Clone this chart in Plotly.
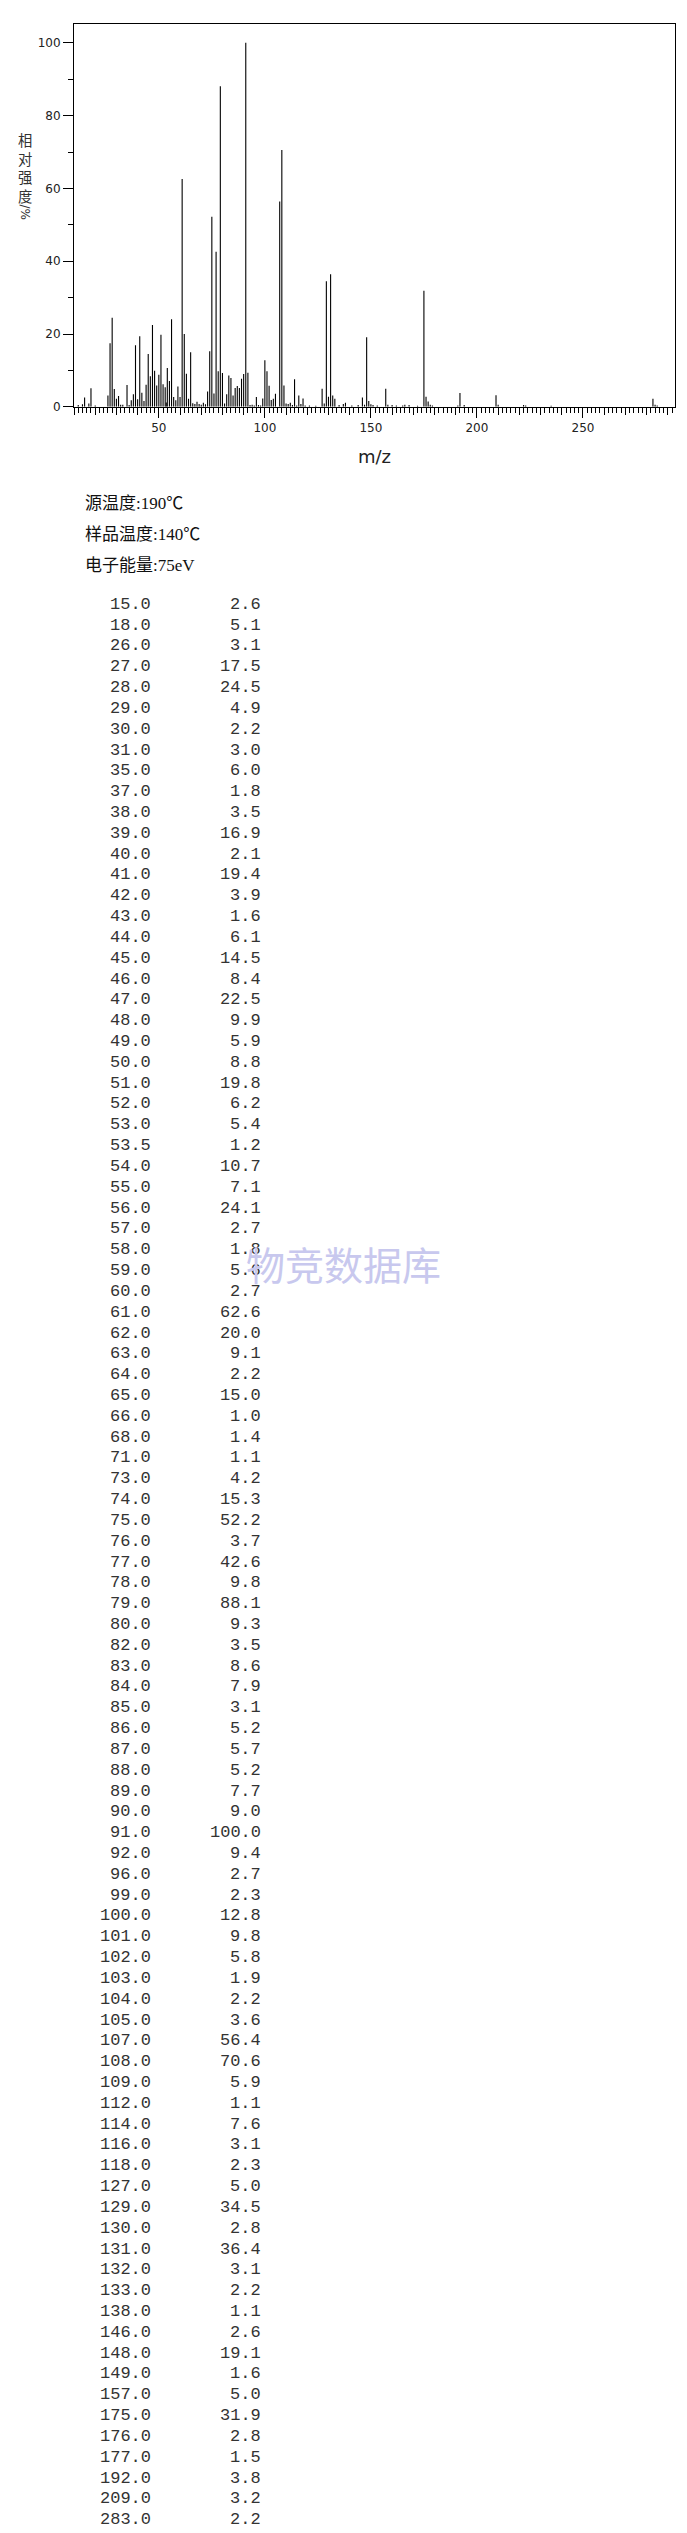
import plotly.graph_objects as go

# ---------------- data ----------------
mz = [15.0, 18.0, 26.0, 27.0, 28.0, 29.0, 30.0, 31.0, 35.0, 37.0,
      38.0, 39.0, 40.0, 41.0, 42.0, 43.0, 44.0, 45.0, 46.0, 47.0,
      48.0, 49.0, 50.0, 51.0, 52.0, 53.0, 53.5, 54.0, 55.0, 56.0,
      57.0, 58.0, 59.0, 60.0, 61.0, 62.0, 63.0, 64.0, 65.0, 66.0,
      68.0, 71.0, 73.0, 74.0, 75.0, 76.0, 77.0, 78.0, 79.0, 80.0,
      82.0, 83.0, 84.0, 85.0, 86.0, 87.0, 88.0, 89.0, 90.0, 91.0,
      92.0, 96.0, 99.0, 100.0, 101.0, 102.0, 103.0, 104.0, 105.0, 107.0,
      108.0, 109.0, 112.0, 114.0, 116.0, 118.0, 127.0, 129.0, 130.0, 131.0,
      132.0, 133.0, 138.0, 146.0, 148.0, 149.0, 157.0, 175.0, 176.0, 177.0,
      192.0, 209.0, 283.0]
intensity = [2.6, 5.1, 3.1, 17.5, 24.5, 4.9, 2.2, 3.0, 6.0, 1.8,
             3.5, 16.9, 2.1, 19.4, 3.9, 1.6, 6.1, 14.5, 8.4, 22.5,
             9.9, 5.9, 8.8, 19.8, 6.2, 5.4, 1.2, 10.7, 7.1, 24.1,
             2.7, 1.8, 5.6, 2.7, 62.6, 20.0, 9.1, 2.2, 15.0, 1.0,
             1.4, 1.1, 4.2, 15.3, 52.2, 3.7, 42.6, 9.8, 88.1, 9.3,
             3.5, 8.6, 7.9, 3.1, 5.2, 5.7, 5.2, 7.7, 9.0, 100.0,
             9.4, 2.7, 2.3, 12.8, 9.8, 5.8, 1.9, 2.2, 3.6, 56.4,
             70.6, 5.9, 1.1, 7.6, 3.1, 2.3, 5.0, 34.5, 2.8, 36.4,
             3.1, 2.2, 1.1, 2.6, 19.1, 1.6, 5.0, 31.9, 2.8, 1.5,
             3.8, 3.2, 2.2]

# small peaks (< 1 %) visible in the plotted spectrum but not in the table
minor_mz = [12, 14, 17, 20, 32, 33, 36, 67, 69, 70, 72, 81, 93, 94, 95,
            97, 98, 110, 111, 113, 115, 117, 119, 121, 124, 128, 135, 137,
            141, 144, 147, 150, 151, 153, 158, 160, 162, 165, 166, 168, 172,
            178, 179, 191, 194, 210, 222, 223, 235, 284, 285]
minor_int = [0.5, 0.7, 0.9, 0.4, 0.6, 0.6, 0.5, 0.8, 0.8, 0.6, 0.7, 0.9, 0.5, 0.6, 0.4,
             0.5, 0.4, 0.9, 0.8, 0.5, 0.4, 0.8, 0.4, 0.4, 0.3, 0.9, 0.5, 0.8,
             0.4, 0.5, 0.6, 0.7, 0.5, 0.4, 0.6, 0.5, 0.4, 0.4, 0.6, 0.5, 0.3,
             0.6, 0.4, 0.4, 0.5, 0.6, 0.5, 0.4, 0.3, 0.6, 0.4]

info_lines = ["源温度:190℃", "样品温度:140℃", "电子能量:75eV"]
y_title_text = "相<br>对<br>强<br>度"
y_title_tail = "/%"
x_title = "m/z"
watermark = "物竞数据库"

# ---------------- page geometry (pixels) ----------------
W, H = 687, 2533
PL, PR, PT, PB = 74, 675, 24, 408


def px(x):
    return x / W


def py(y):
    return 1 - y / H


# stick spectrum built from the arrays
sx, sy = [], []
for m, v in list(zip(mz, intensity)) + list(zip(minor_mz, minor_int)):
    sx += [m, m, None]
    sy += [0, v, None]

fig = go.Figure()
fig.add_trace(go.Scatter(x=sx, y=sy, mode="lines",
                         line=dict(color="black", width=1.1),
                         hoverinfo="skip", showlegend=False))
# invisible trace to anchor the medium-tick overlay axis
fig.add_trace(go.Scatter(x=[mz[0]], y=[0], xaxis="x2", mode="markers",
                         marker=dict(opacity=0), hoverinfo="skip",
                         showlegend=False))

tickfont = dict(family="DejaVu Sans", size=12, color="#222")
xr = [10, 293.4]
fig.update_layout(
    width=W, height=H,
    margin=dict(l=0, r=0, t=0, b=0),
    paper_bgcolor="white", plot_bgcolor="white",
    showlegend=False,
    xaxis=dict(domain=[px(PL), px(PR)], range=xr, anchor="y",
               showgrid=False, zeroline=False,
               showline=True, linecolor="black", linewidth=1, mirror=True,
               ticks="outside", ticklen=10, tickwidth=1, tickcolor="black",
               tick0=0, dtick=50, tickfont=tickfont,
               minor=dict(ticks="outside", ticklen=5, tickwidth=1,
                          tickcolor="black", dtick=2, tick0=0, showgrid=False)),
    xaxis2=dict(domain=[px(PL), px(PR)], range=xr, anchor="y", overlaying="x",
                side="bottom", showgrid=False, zeroline=False, showline=False,
                ticks="outside", ticklen=7, tickwidth=1, tickcolor="black",
                tick0=0, dtick=10, showticklabels=False),
    yaxis=dict(domain=[py(PB), py(PT)], range=[0, 105.2], anchor="x",
               showgrid=False, zeroline=False,
               showline=True, linecolor="black", linewidth=1, mirror=True,
               ticks="outside", ticklen=10, tickwidth=1, tickcolor="black",
               tick0=0, dtick=20, tickfont=tickfont,
               minor=dict(ticks="outside", ticklen=5, tickwidth=1,
                          tickcolor="black", dtick=10, tick0=0, showgrid=False)),
)

ann = []
# axis titles
ann.append(dict(x=px(374), y=py(458), xref="paper", yref="paper",
                text=x_title, showarrow=False, xanchor="center", yanchor="middle",
                font=dict(family="DejaVu Sans", size=18, color="#222")))
ann.append(dict(x=px(25), y=py(168), xref="paper", yref="paper",
                text=y_title_text, showarrow=False, xanchor="center",
                yanchor="middle",
                font=dict(family="Noto Sans CJK SC", size=14.3, color="#333")))
ann.append(dict(x=px(25), y=py(213), xref="paper", yref="paper",
                text=y_title_tail, showarrow=False, xanchor="center", yanchor="middle",
                textangle=90,
                font=dict(family="DejaVu Sans", size=12, color="#333")))

# info lines
for i, (t, yy) in enumerate(zip(info_lines, [505, 535.5, 567])):
    ann.append(dict(x=px(82.5), y=py(yy), xref="paper", yref="paper",
                    text=t, showarrow=False, xanchor="left", yanchor="middle",
                    font=dict(family="Liberation Serif, Noto Sans CJK SC",
                              size=17, color="#111")))

# table rows
y0, pitch = 606.0, (2526.7 - 606.0) / (len(mz) - 1)
mono = dict(family="Liberation Mono", size=17, color="#333")
for i, (m, v) in enumerate(zip(mz, intensity)):
    yy = y0 + i * pitch
    ann.append(dict(x=px(152.7), y=py(yy), xref="paper", yref="paper",
                    text=f"{m:.1f}", showarrow=False, xanchor="right",
                    yanchor="middle", font=mono))
    ann.append(dict(x=px(262.7), y=py(yy), xref="paper", yref="paper",
                    text=f"{v:.1f}", showarrow=False, xanchor="right",
                    yanchor="middle", font=mono))

# watermark
ann.append(dict(x=px(343), y=py(1266), xref="paper", yref="paper",
                text=watermark, showarrow=False, xanchor="center", yanchor="middle",
                font=dict(family="Noto Sans CJK SC", size=39, color="#c8c8ee")))

fig.update_layout(annotations=ann)
fig.write_html("out.html",
               config={"displayModeBar": False, "staticPlot": True},
               post_script="document.body.style.margin='0px';"
                           "document.body.style.overflow='hidden';")
